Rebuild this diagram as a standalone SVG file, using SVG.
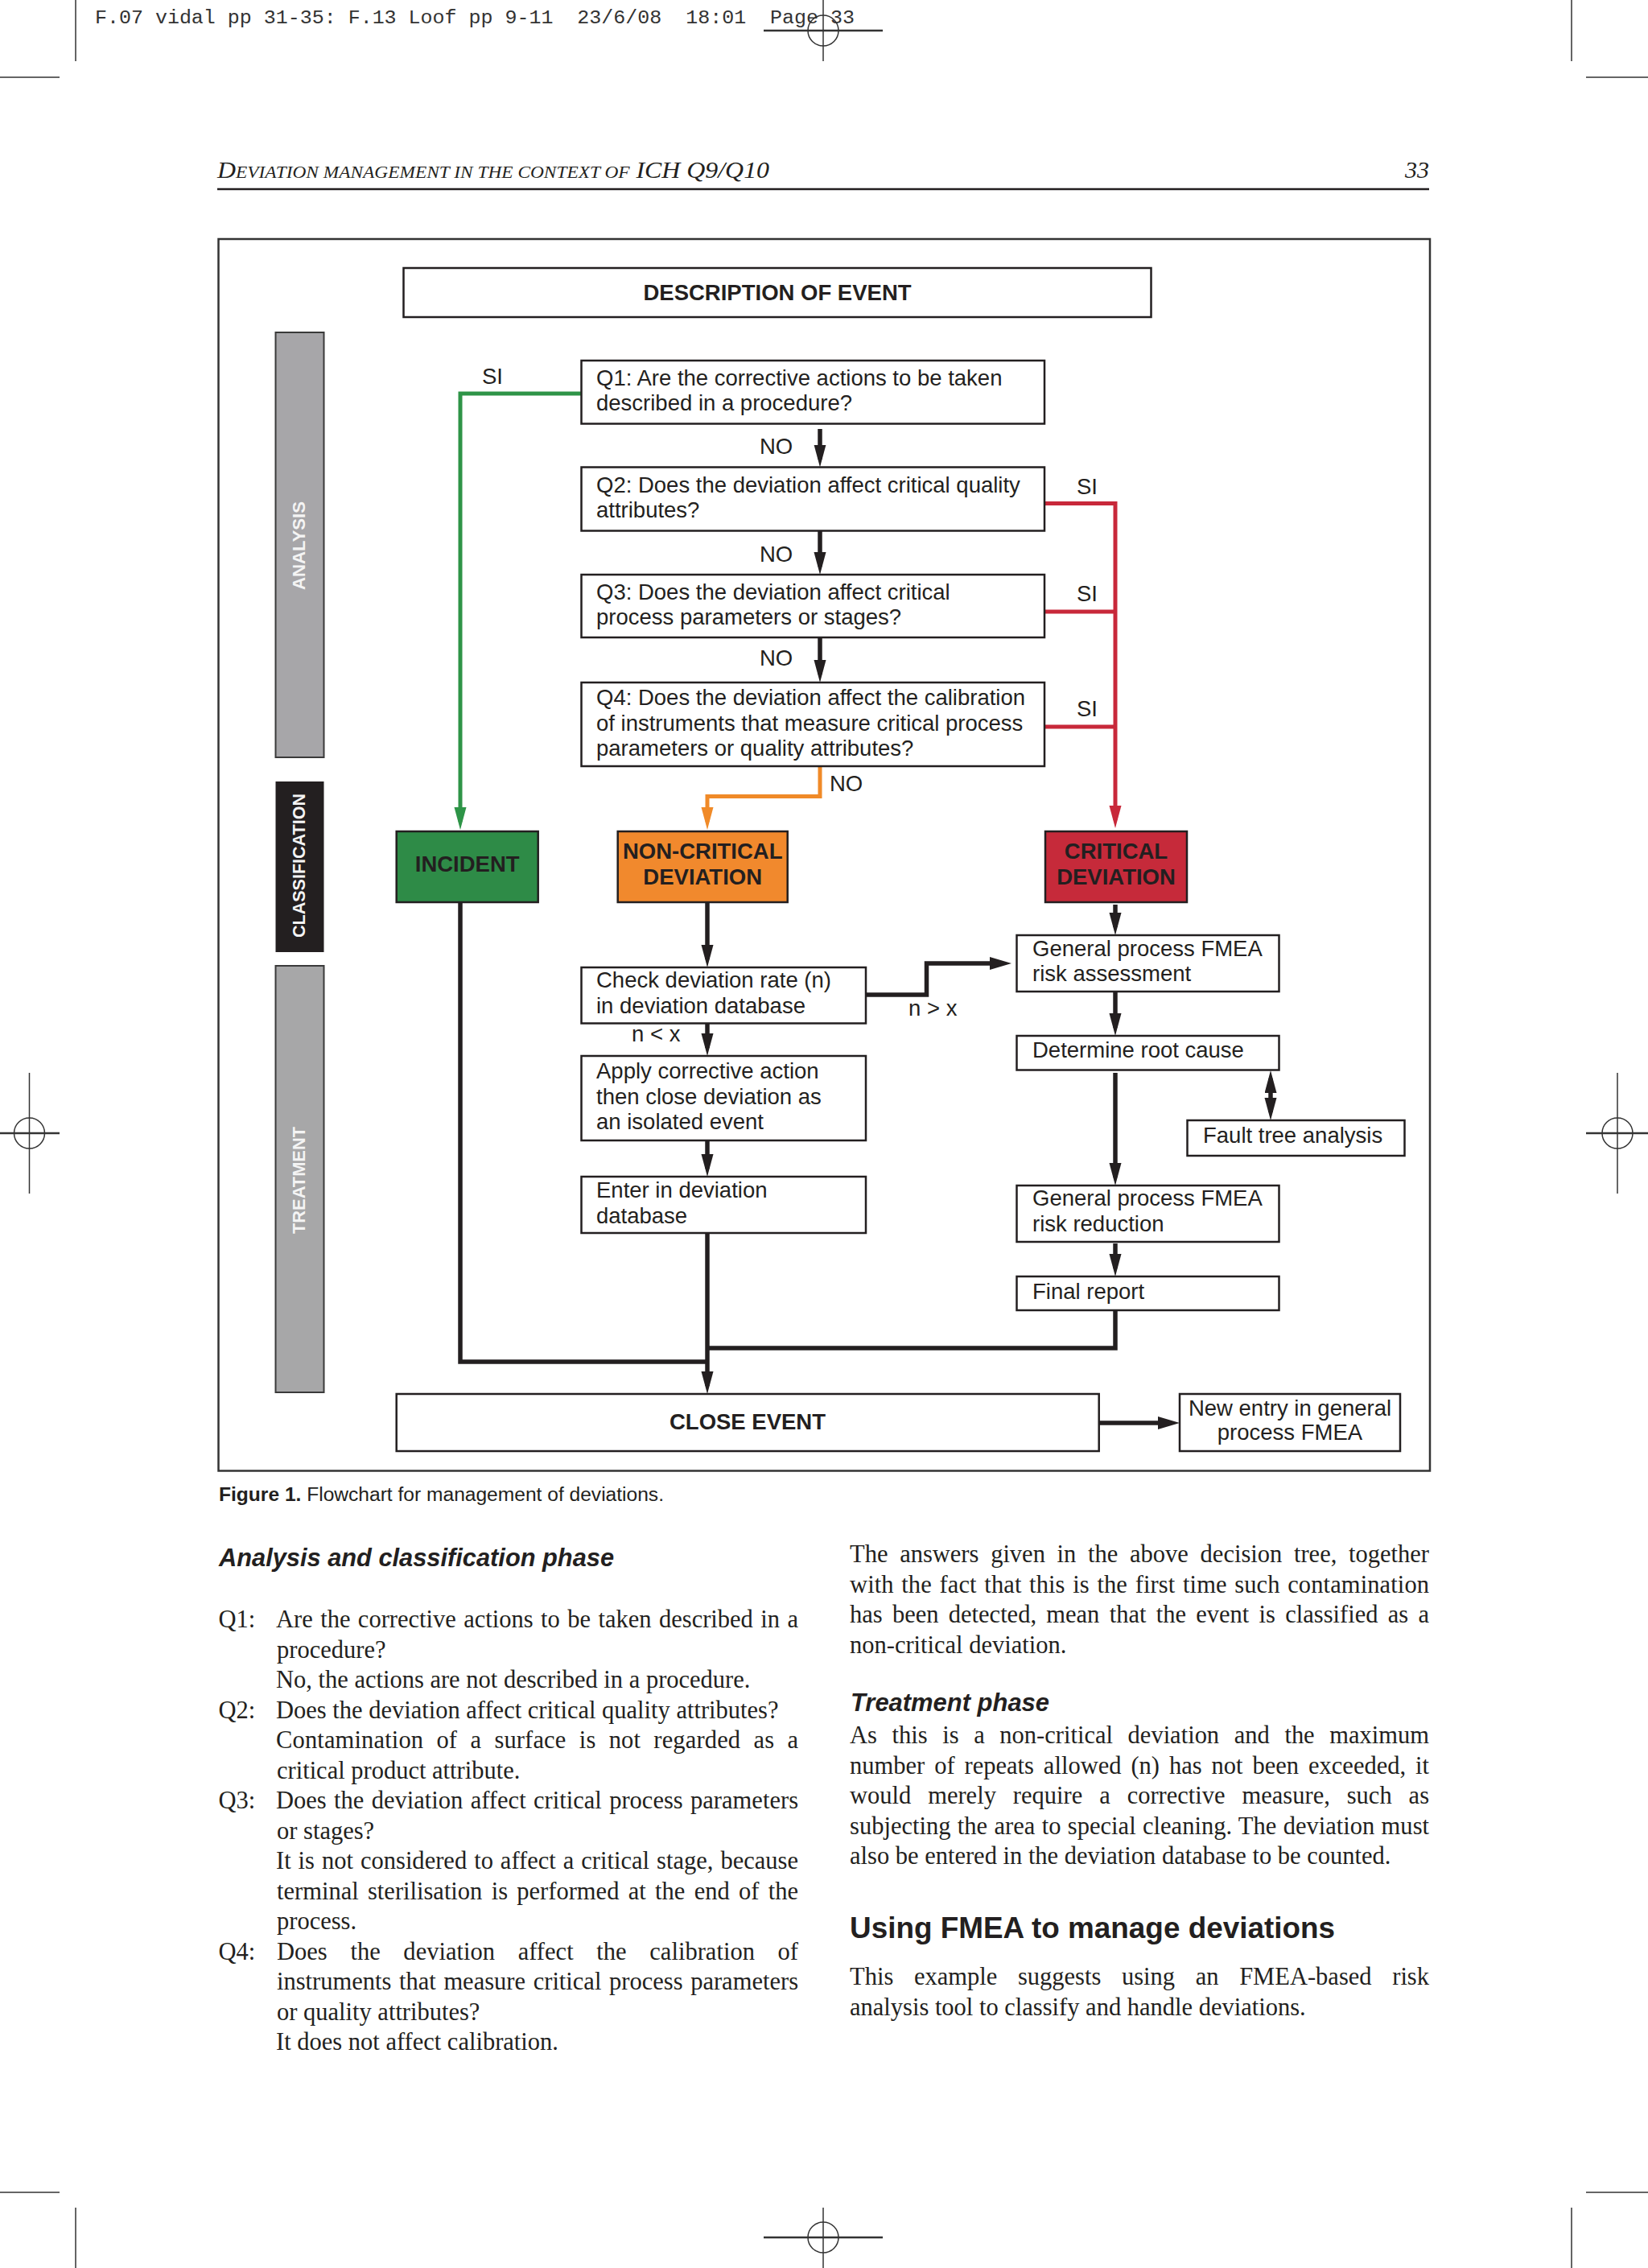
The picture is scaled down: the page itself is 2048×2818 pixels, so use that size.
<svg xmlns="http://www.w3.org/2000/svg" width="2048" height="2818" viewBox="0 0 2048 2818">
<style>
.mk{fill:none;stroke:#333;stroke-width:1.5}
.box{fill:#fff;stroke:#231f20;stroke-width:2.5}
.t{font-family:"Liberation Sans",Arial,sans-serif;font-size:27.5px;fill:#231f20}
.b{font-weight:bold}
.c{text-anchor:middle}
.bar{font-family:"Liberation Sans",Arial,sans-serif;font-size:22px;font-weight:bold;fill:#f4f4f4;text-anchor:middle}
.k{fill:none;stroke:#231f20;stroke-width:5.5}
.g{fill:none;stroke:#2e9447;stroke-width:5}
.o{fill:none;stroke:#f08a28;stroke-width:5}
.r{fill:none;stroke:#c8283a;stroke-width:5}
.s{font-family:"Liberation Serif","Times New Roman",serif;font-size:30.5px;fill:#231f20}
.h{font-family:"Liberation Sans",Arial,sans-serif;font-size:32px;font-weight:bold;font-style:italic;fill:#231f20}
</style>
<defs>
<marker id="ak" markerUnits="userSpaceOnUse" markerWidth="30" markerHeight="16" refX="18" refY="7.5" orient="auto"><path d="M0,0 L28,7.5 L0,15 z" fill="#231f20"/></marker>
<marker id="ad" markerUnits="userSpaceOnUse" markerWidth="30" markerHeight="16" refX="18" refY="7.5" orient="auto-start-reverse"><path d="M0,0 L28,7.5 L0,15 z" fill="#231f20"/></marker>
<marker id="ag" markerUnits="userSpaceOnUse" markerWidth="30" markerHeight="16" refX="18" refY="7.5" orient="auto"><path d="M0,0 L28,7.5 L0,15 z" fill="#2e9447"/></marker>
<marker id="ao" markerUnits="userSpaceOnUse" markerWidth="30" markerHeight="16" refX="18" refY="7.5" orient="auto"><path d="M0,0 L28,7.5 L0,15 z" fill="#f08a28"/></marker>
<marker id="ar" markerUnits="userSpaceOnUse" markerWidth="30" markerHeight="16" refX="18" refY="7.5" orient="auto"><path d="M0,0 L28,7.5 L0,15 z" fill="#c8283a"/></marker>
<marker id="at" markerUnits="userSpaceOnUse" markerWidth="30" markerHeight="18" refX="15" refY="8" orient="auto"><path d="M0,0 L27,8 L0,16 z" fill="#231f20"/></marker>
</defs>
<rect width="2048" height="2818" fill="#fff"/>

<g id="printer-marks">
<path class="mk" d="M94,0 V76 M1953,0 V76 M0,96 H74 M1971,96 H2048 M0,2724 H74 M1971,2724 H2048 M94,2743 V2818 M1953,2743 V2818"/>
<circle class="mk" cx="1023" cy="38" r="19"/>
<path class="mk" d="M1023,0 V76"/>
<path d="M949,38 H1097" stroke="#333" stroke-width="2.5"/>
<circle class="mk" cx="1023" cy="2780" r="19"/>
<path class="mk" d="M1023,2743 V2818"/>
<path d="M949,2780 H1097" stroke="#333" stroke-width="2.5"/>
<circle class="mk" cx="36.5" cy="1408" r="19"/>
<path class="mk" d="M36.5,1333 V1483"/>
<path d="M0,1408 H74" stroke="#333" stroke-width="2.5"/>
<circle class="mk" cx="2010" cy="1408" r="19"/>
<path class="mk" d="M2010,1333 V1483"/>
<path d="M1971,1408 H2048" stroke="#333" stroke-width="2.5"/>
<text x="118" y="29" font-family="'Liberation Mono','Courier New',monospace" font-size="23" fill="#333" style="white-space:pre" textLength="944" lengthAdjust="spacingAndGlyphs">F.07 vidal pp 31-35: F.13 Loof pp 9-11  23/6/08  18:01  Page 33</text>
</g>

<g id="running-head">
<text x="270" y="221" font-family="'Liberation Serif','Times New Roman',serif" font-style="italic" font-size="30" fill="#231f20" textLength="686" lengthAdjust="spacingAndGlyphs">D<tspan font-size="22">EVIATION MANAGEMENT IN THE CONTEXT OF</tspan> ICH Q9/Q10</text>
<text x="1776" y="221" font-family="'Liberation Serif','Times New Roman',serif" font-style="italic" font-size="30" fill="#231f20" text-anchor="end">33</text>
<path d="M270,235 H1776" stroke="#231f20" stroke-width="2.5"/>
</g>

<rect id="frame" x="271.5" y="297" width="1505.5" height="1530.5" fill="none" stroke="#333" stroke-width="2.5"/>

<g id="phase-bars">
<rect x="342.5" y="413" width="60" height="528" fill="#a7a6a9" stroke="#3a3a3a" stroke-width="2"/>
<text class="bar" transform="translate(379,678) rotate(-90)" textLength="110" lengthAdjust="spacingAndGlyphs">ANALYSIS</text>
<rect x="342.5" y="971" width="60" height="212" fill="#231f20"/>
<text class="bar" transform="translate(379,1075.5) rotate(-90)" textLength="179" lengthAdjust="spacingAndGlyphs">CLASSIFICATION</text>
<rect x="342.5" y="1200" width="60" height="530" fill="#a7a7a8" stroke="#3a3a3a" stroke-width="2"/>
<text class="bar" transform="translate(379,1466.5) rotate(-90)" textLength="133" lengthAdjust="spacingAndGlyphs">TREATMENT</text>
</g>

<g id="connectors">
<path class="k" d="M1019,533 V570.5" marker-end="url(#ak)"/>
<path class="k" d="M1019,660 V704" marker-end="url(#ak)"/>
<path class="k" d="M1019,793 V838" marker-end="url(#ak)"/>
<path class="g" d="M722,489 H572 V1021" marker-end="url(#ag)"/>
<path class="r" d="M1298,625.5 H1386 V1019" marker-end="url(#ar)"/>
<path class="r" d="M1298,760 H1386 M1298,903 H1386"/>
<path class="o" d="M1019,952 V989.5 H879 V1021" marker-end="url(#ao)"/>
<path class="k" d="M879,1122 V1192" marker-end="url(#ak)"/>
<path class="k" d="M879,1271.5 V1302" marker-end="url(#ak)"/>
<path class="k" d="M879,1417 V1452" marker-end="url(#ak)"/>
<path class="k" d="M879,1532 V1722" marker-end="url(#ak)"/>
<path class="k" d="M1386,1124 V1152" marker-end="url(#ak)"/>
<path class="k" d="M1386,1232 V1277" marker-end="url(#ak)"/>
<path class="k" d="M1386,1333 V1463" marker-end="url(#ak)"/>
<path class="k" d="M1386,1545 V1576" marker-end="url(#ak)"/>
<path class="k" d="M1386,1628 V1675 H879"/>
<path class="k" d="M572,1121 V1692 H879"/>
<path class="k" d="M1076,1236 H1151.5 V1197 H1245" stroke-width="7" marker-end="url(#at)"/>
<path class="k" d="M1579,1340 V1382" stroke-width="4" marker-start="url(#ad)" marker-end="url(#ad)"/>
<path class="k" d="M1366,1768 H1454" stroke-width="6.5" marker-end="url(#at)"/>
</g>

<g id="connector-labels" class="t">
<text x="599" y="477">SI</text>
<text x="944" y="564">NO</text>
<text x="944" y="698">NO</text>
<text x="944" y="827">NO</text>
<text x="1031" y="983">NO</text>
<text x="1338" y="614">SI</text>
<text x="1338" y="747">SI</text>
<text x="1338" y="890">SI</text>
<text x="785" y="1294">n &lt; x</text>
<text x="1129" y="1262">n &gt; x</text>
</g>

<g id="description-of-event">
<rect class="box" x="501.5" y="333" width="929" height="61"/>
<text class="t b c" x="966" y="373" font-size="28">DESCRIPTION OF EVENT</text>
</g>
<g id="q1">
<rect class="box" x="722.5" y="448" width="575.5" height="78.5"/>
<text class="t" x="741" y="479">Q1: Are the corrective actions to be taken</text>
<text class="t" x="741" y="510">described in a procedure?</text>
</g>
<g id="q2">
<rect class="box" x="722.5" y="580.5" width="575.5" height="79"/>
<text class="t" x="741" y="612">Q2: Does the deviation affect critical quality</text>
<text class="t" x="741" y="643">attributes?</text>
</g>
<g id="q3">
<rect class="box" x="722.5" y="714" width="575.5" height="78"/>
<text class="t" x="741" y="745">Q3: Does the deviation affect critical</text>
<text class="t" x="741" y="776">process parameters or stages?</text>
</g>
<g id="q4">
<rect class="box" x="722.5" y="848" width="575.5" height="104"/>
<text class="t" x="741" y="876">Q4: Does the deviation affect the calibration</text>
<text class="t" x="741" y="907.5">of instruments that measure critical process</text>
<text class="t" x="741" y="939">parameters or quality attributes?</text>
</g>
<g id="incident">
<rect x="492.7" y="1033" width="176" height="88" fill="#2e8b47" stroke="#231f20" stroke-width="2.5"/>
<text class="t b c" x="580.7" y="1083">INCIDENT</text>
</g>
<g id="non-critical-deviation">
<rect x="767.7" y="1033" width="211" height="88" fill="#f1892d" stroke="#231f20" stroke-width="2.5"/>
<text class="t b c" x="873.2" y="1067">NON-CRITICAL</text>
<text class="t b c" x="873.2" y="1098.5">DEVIATION</text>
</g>
<g id="critical-deviation">
<rect x="1299" y="1033" width="176" height="88" fill="#c62a3a" stroke="#231f20" stroke-width="2.5"/>
<text class="t b c" x="1387" y="1067">CRITICAL</text>
<text class="t b c" x="1387" y="1098.5">DEVIATION</text>
</g>
<g id="check-rate">
<rect class="box" x="722.5" y="1202" width="353.5" height="69.5"/>
<text class="t" x="741" y="1227">Check deviation rate (n)</text>
<text class="t" x="741" y="1258.5">in deviation database</text>
</g>
<g id="apply-corrective">
<rect class="box" x="722.5" y="1312" width="353.5" height="105"/>
<text class="t" x="741" y="1340">Apply corrective action</text>
<text class="t" x="741" y="1371.5">then close deviation as</text>
<text class="t" x="741" y="1403">an isolated event</text>
</g>
<g id="enter-database">
<rect class="box" x="722.5" y="1462" width="353.5" height="70"/>
<text class="t" x="741" y="1488">Enter in deviation</text>
<text class="t" x="741" y="1519.5">database</text>
</g>
<g id="fmea-assessment">
<rect class="box" x="1263.5" y="1162" width="326" height="70"/>
<text class="t" x="1283" y="1187.5">General process FMEA</text>
<text class="t" x="1283" y="1219">risk assessment</text>
</g>
<g id="root-cause">
<rect class="box" x="1263.5" y="1287" width="326" height="42.5"/>
<text class="t" x="1283" y="1314">Determine root cause</text>
</g>
<g id="fault-tree">
<rect class="box" x="1475.5" y="1392" width="270" height="44"/>
<text class="t" x="1495" y="1420">Fault tree analysis</text>
</g>
<g id="fmea-reduction">
<rect class="box" x="1263.5" y="1473" width="326" height="70"/>
<text class="t" x="1283" y="1498">General process FMEA</text>
<text class="t" x="1283" y="1529.5">risk reduction</text>
</g>
<g id="final-report">
<rect class="box" x="1263.5" y="1586" width="326" height="42"/>
<text class="t" x="1283" y="1614">Final report</text>
</g>
<g id="close-event">
<rect class="box" x="492.7" y="1732" width="873" height="71"/>
<text class="t b c" x="929" y="1776">CLOSE EVENT</text>
</g>
<g id="new-entry">
<rect class="box" x="1466" y="1732" width="274" height="71"/>
<text class="t c" x="1603" y="1758.5">New entry in general</text>
<text class="t c" x="1603" y="1789">process FMEA</text>
</g>

<text x="272" y="1865" font-family="'Liberation Sans',Arial,sans-serif" font-size="23" fill="#231f20" textLength="553" lengthAdjust="spacingAndGlyphs"><tspan font-weight="bold">Figure 1.</tspan> Flowchart for management of deviations.</text>

<g id="left-column">
<text class="h" x="272" y="1946" textLength="491" lengthAdjust="spacingAndGlyphs">Analysis and classification phase</text>
<g class="s">
<text x="271.5" y="2022">Q1:</text>
<text x="343" y="2022" word-spacing="1.8" textLength="649">Are the corrective actions to be taken described in a</text>
<text x="344" y="2059.5">procedure?</text>
<text x="343" y="2097">No, the actions are not described in a procedure.</text>
<text x="271.5" y="2134.5">Q2:</text>
<text x="343" y="2134.5">Does the deviation affect critical quality attributes?</text>
<text x="343" y="2172" word-spacing="8.5" textLength="649">Contamination of a surface is not regarded as a</text>
<text x="344" y="2209.5">critical product attribute.</text>
<text x="271.5" y="2247">Q3:</text>
<text x="343" y="2247" word-spacing="1.7" textLength="649">Does the deviation affect critical process parameters</text>
<text x="344" y="2284.5">or stages?</text>
<text x="343" y="2322" word-spacing="1.3" textLength="649">It is not considered to affect a critical stage, because</text>
<text x="344" y="2359.5" word-spacing="3.7" textLength="648">terminal sterilisation is performed at the end of the</text>
<text x="344" y="2397">process.</text>
<text x="271.5" y="2434.5">Q4:</text>
<text x="344" y="2434.5" word-spacing="21" textLength="648">Does the deviation affect the calibration of</text>
<text x="344" y="2472" word-spacing="2" textLength="648">instruments that measure critical process parameters</text>
<text x="344" y="2509.5">or quality attributes?</text>
<text x="343" y="2547">It does not affect calibration.</text>
</g>
</g>

<g id="right-column">
<g class="s">
<text x="1056" y="1941" word-spacing="7.1" textLength="720">The answers given in the above decision tree, together</text>
<text x="1056" y="1978.5" word-spacing="1.9" textLength="720">with the fact that this is the first time such contamination</text>
<text x="1056" y="2016" word-spacing="4.7" textLength="720">has been detected, mean that the event is classified as a</text>
<text x="1056" y="2053.5">non-critical deviation.</text>
<text x="1056" y="2166" word-spacing="11" textLength="720">As this is a non-critical deviation and the maximum</text>
<text x="1056" y="2203.5" word-spacing="4.3" textLength="720">number of repeats allowed (n) has not been exceeded, it</text>
<text x="1056" y="2241" word-spacing="13.3" textLength="720">would merely require a corrective measure, such as</text>
<text x="1056" y="2278.5" word-spacing="0.7" textLength="720">subjecting the area to special cleaning. The deviation must</text>
<text x="1056" y="2316">also be entered in the deviation database to be counted.</text>
<text x="1056" y="2466" word-spacing="18" textLength="720">This example suggests using an FMEA-based risk</text>
<text x="1056" y="2503.5">analysis tool to classify and handle deviations.</text>
</g>
<text class="h" x="1057" y="2126" textLength="247" lengthAdjust="spacingAndGlyphs">Treatment phase</text>
<text x="1056" y="2408" font-family="'Liberation Sans',Arial,sans-serif" font-size="37" font-weight="bold" fill="#231f20" textLength="603" lengthAdjust="spacingAndGlyphs">Using FMEA to manage deviations</text>
</g>
</svg>
